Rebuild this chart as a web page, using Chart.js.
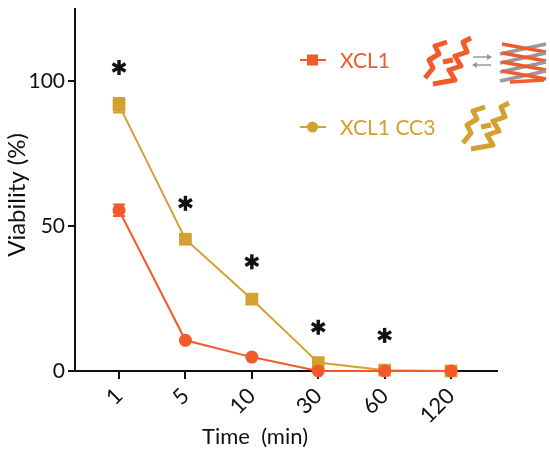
<!DOCTYPE html>
<html>
<head>
<meta charset="utf-8">
<script src="https://cdn.jsdelivr.net/npm/chart.js@4/dist/chart.umd.min.js"></script>
<style>
  html, body { margin: 0; padding: 0; background: #fff; }
  #wrap { width: 550px; height: 455px; }
</style>
</head>
<body>
<div id="wrap"><canvas id="via"></canvas></div>
<script>
// data
const times = ['1', '5', '10', '30', '60', '120'];
const xcl1 = [55.5, 10.6, 4.8, 0, 0, 0];
const xcl1Err = [2, 0, 0, 0, 0, 0];
const cc3 = [91.8, 45.5, 24.8, 2.9, 0.3, 0];
const cc3Err = [2.5, 0, 0, 0, 0, 0];
const starY = [104.8, 57.9, 37.7, 15.1, 12.3];
const yTicks = [0, 50, 100];

const orange = '#f15a2b';
const gold = '#d4a030';
const font = 'Lato';

function asterisk(ctx, x, y, r) {
    ctx.save();
    ctx.strokeStyle = '#111';
    ctx.lineWidth = 3.4;
    for (const a of [90, 30, 150]) {
        const t = a * Math.PI / 180;
        ctx.beginPath();
        ctx.moveTo(x - r * Math.cos(t), y - r * Math.sin(t));
        ctx.lineTo(x + r * Math.cos(t), y + r * Math.sin(t));
        ctx.stroke();
    }
    ctx.restore();
}

// rough ribbon sketch of the protein fold
function coil(ctx, x, y, color) {
    ctx.save();
    ctx.strokeStyle = color;
    ctx.lineWidth = 5;
    ctx.lineJoin = 'round';
    ctx.beginPath();
    ctx.moveTo(x, y + 38);
    ctx.lineTo(x + 8, y + 28);
    ctx.lineTo(x + 4, y + 20);
    ctx.lineTo(x + 14, y + 14);
    ctx.lineTo(x + 10, y + 6);
    ctx.lineTo(x + 22, y + 2);
    ctx.stroke();
    ctx.beginPath();
    ctx.moveTo(x + 8, y + 44);
    ctx.lineTo(x + 30, y + 40);
    ctx.lineTo(x + 24, y + 30);
    ctx.lineTo(x + 36, y + 26);
    ctx.lineTo(x + 30, y + 16);
    ctx.lineTo(x + 42, y + 12);
    ctx.lineTo(x + 38, y + 2);
    ctx.lineTo(x + 46, y - 2);
    ctx.stroke();
    ctx.beginPath();
    ctx.moveTo(x + 18, y + 22);
    ctx.lineTo(x + 28, y + 20);
    ctx.stroke();
    ctx.restore();
}

function sheet(ctx, x, y) {
    ctx.save();
    ctx.lineWidth = 3.5;
    [0, 9, 18, 27].forEach(dy => {
        ctx.strokeStyle = '#999';
        ctx.beginPath();
        ctx.moveTo(x, y + dy + 10);
        ctx.lineTo(x + 46, y + dy);
        ctx.stroke();
        ctx.strokeStyle = orange;
        ctx.beginPath();
        ctx.moveTo(x + 2, y + dy);
        ctx.lineTo(x + 46, y + dy + 8);
        ctx.stroke();
    });
    ctx.strokeStyle = orange;
    ctx.beginPath();
    ctx.moveTo(x + 10, y + 38);
    ctx.lineTo(x + 44, y + 36);
    ctx.stroke();
    // exchange arrows
    ctx.strokeStyle = '#999';
    ctx.fillStyle = '#999';
    ctx.lineWidth = 1.5;
    ctx.beginPath();
    ctx.moveTo(x - 27, y + 13); ctx.lineTo(x - 9, y + 13);
    ctx.moveTo(x - 9, y + 21); ctx.lineTo(x - 27, y + 21);
    ctx.stroke();
    ctx.beginPath();
    ctx.moveTo(x - 8, y + 13); ctx.lineTo(x - 13, y + 10); ctx.lineTo(x - 13, y + 16); ctx.fill();
    ctx.beginPath();
    ctx.moveTo(x - 28, y + 21); ctx.lineTo(x - 23, y + 18); ctx.lineTo(x - 23, y + 24); ctx.fill();
    ctx.restore();
}

const extras = {
    id: 'extras',
    beforeDatasetsDraw(chart) {
        const { ctx, scales: { x, y } } = chart;
        ctx.save();
        [[xcl1, xcl1Err, orange], [cc3, cc3Err, gold]].forEach(([vals, errs, col]) => {
            vals.forEach((v, i) => {
                if (!errs[i]) return;
                const px = x.getPixelForValue(i);
                const top = y.getPixelForValue(v + errs[i]);
                const bot = y.getPixelForValue(v - errs[i]);
                ctx.strokeStyle = col;
                ctx.lineWidth = 2;
                ctx.beginPath();
                ctx.moveTo(px, top); ctx.lineTo(px, bot);
                ctx.moveTo(px - 6, top); ctx.lineTo(px + 6, top);
                ctx.moveTo(px - 6, bot); ctx.lineTo(px + 6, bot);
                ctx.stroke();
            });
        });
        ctx.restore();
    },
    afterDraw(chart) {
        const { ctx, scales: { x, y } } = chart;
        starY.forEach((v, i) => asterisk(ctx, x.getPixelForValue(i), y.getPixelForValue(v), 7.5));

        ctx.save();
        ctx.fillStyle = '#111';
        ctx.textAlign = 'center';
        ctx.textBaseline = 'middle';
        // x title
        ctx.font = '22px ' + font;
        ctx.fillText('Time  (min)', 255, 437);
        // y title
        ctx.save();
        ctx.translate(17, 195);
        ctx.rotate(-Math.PI / 2);
        ctx.font = '24px ' + font;
        ctx.fillText('Viability (%)', 0, 0);
        ctx.restore();

        // legend
        const items = [
            { label: 'XCL1', color: orange, style: 'rect', y: 60 },
            { label: 'XCL1 CC3', color: gold, style: 'circle', y: 127 },
        ];
        items.forEach(it => {
            ctx.strokeStyle = it.color;
            ctx.fillStyle = it.color;
            ctx.lineWidth = 2;
            ctx.beginPath();
            ctx.moveTo(300, it.y); ctx.lineTo(326, it.y);
            ctx.stroke();
            if (it.style === 'rect') {
                ctx.fillRect(307, it.y - 5.5, 11, 11);
            } else {
                ctx.beginPath();
                ctx.arc(312.5, it.y, 5.5, 0, Math.PI * 2);
                ctx.fill();
            }
            ctx.font = '21px ' + font;
            ctx.textAlign = 'left';
            ctx.fillText(it.label, 340, it.y + 1);
        });
        ctx.restore();

        coil(ctx, 425, 40, orange);
        sheet(ctx, 500, 44);
        coil(ctx, 463, 105, gold);
    }
};

const cv = document.getElementById('via').getContext('2d');
const viaChart = new Chart(cv, {
    type: 'line',
    data: {
        labels: times,
        datasets: [
            {
                label: 'XCL1',
                data: xcl1.map((v, i) => ({ x: i, y: v })),
                borderColor: orange,
                backgroundColor: orange,
                borderWidth: 2,
                pointStyle: 'circle',
                pointRadius: 6.5,
                pointBorderWidth: 0,
                clip: false,
                order: 0,
            },
            {
                label: 'XCL1 CC3',
                data: cc3.map((v, i) => ({ x: i, y: v })),
                borderColor: gold,
                backgroundColor: gold,
                borderWidth: 2,
                pointStyle: 'rect',
                pointRadius: 9,
                pointBorderWidth: 0,
                clip: false,
                order: 1,
            },
        ],
    },
    options: {
        responsive: true,
        maintainAspectRatio: false,
        animation: false,
        layout: { padding: { top: 5, right: 53, left: 0, bottom: 0 } },
        plugins: {
            legend: { display: false },
            tooltip: { enabled: false },
        },
        scales: {
            x: {
                type: 'linear',
                min: -0.663,
                max: 5.692,
                afterBuildTicks: s => { s.ticks = times.map((_, i) => ({ value: i })); },
                afterFit: s => { s.height = 84; s.paddingLeft = 0; s.paddingRight = 0; },
                grid: { drawOnChartArea: false, drawTicks: true, tickLength: 8, color: '#111', lineWidth: 2 },
                border: { display: true, color: '#111', width: 2 },
                ticks: {
                    autoSkip: false,
                    minRotation: 45,
                    maxRotation: 45,
                    padding: 4,
                    color: '#111',
                    font: { family: font, size: 22 },
                    callback: v => times[v],
                },
            },
            y: {
                min: 0,
                max: 125,
                afterBuildTicks: s => { s.ticks = yTicks.map(v => ({ value: v })); },
                afterFit: s => { s.width = 75; s.paddingTop = 0; s.paddingBottom = 0; },
                grid: { drawOnChartArea: false, drawTicks: true, tickLength: 7, color: '#111', lineWidth: 2 },
                border: { display: true, color: '#111', width: 2 },
                ticks: {
                    padding: 3,
                    color: '#111',
                    font: { family: font, size: 21 },
                },
            },
        },
    },
    plugins: [extras],
});
</script>
</body>
</html>
